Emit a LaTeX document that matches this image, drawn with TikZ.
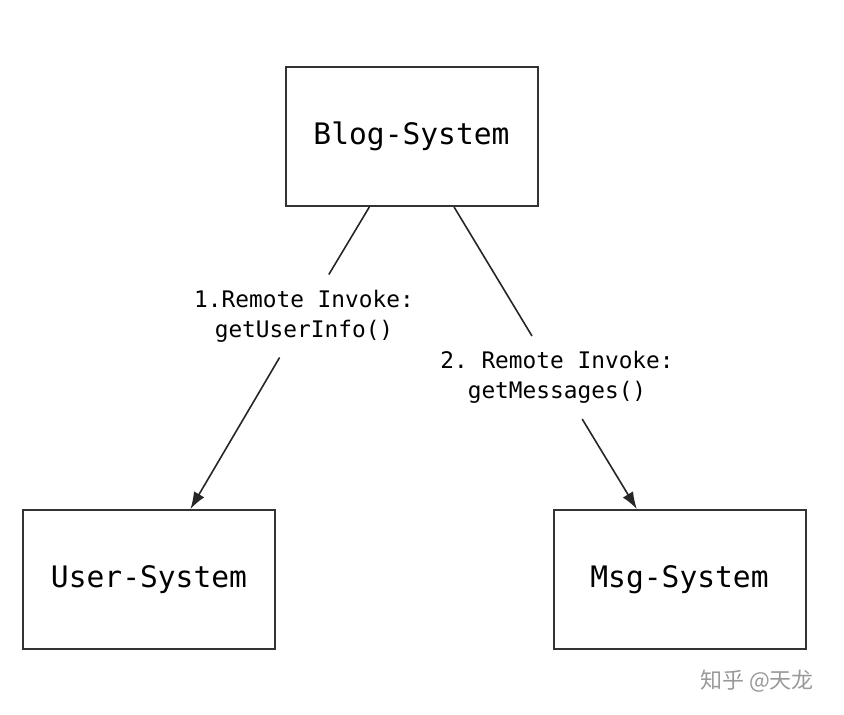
\documentclass[tikz,border=0pt]{standalone}
\usepackage{fontspec}
\setmonofont{DejaVu Sans Mono}
\newfontfamily\cjkfont{Noto Sans CJK SC}
\usetikzlibrary{arrows.meta}

\begin{document}
\begin{tikzpicture}[x=0.5pt,y=-0.5pt,
        sysbox/.style={draw=black!80,line width=1pt,minimum width=126pt,minimum height=69.5pt,inner sep=0pt,
            font=\ttfamily\fontsize{14.8}{18}\selectfont},
        call/.style={align=center,inner xsep=4pt,inner ysep=7.5pt,font=\ttfamily\fontsize{11.4}{15}\selectfont},
        wire/.style={draw=black!85,line width=0.8pt}]
            \useasboundingbox (0,0) rectangle (844,714);

            \node[sysbox] (blog) at (411.5,136.5) {Blog-System};
            \node[sysbox] (user) at (149,579.5) {User-System};
            \node[sysbox] (msg) at (679.5,579.5) {Msg-System};

            \node[call] (call1) at (304,316) {1.Remote Invoke:\\getUserInfo()};
            \node[call] (call2) at (557,377.5) {2. Remote Invoke:\\getMessages()};

            \draw[wire] (blog) -- (call1);
            \draw[wire,-{Latex[length=8.5pt,width=6pt]}] (call1) -- (user);
            \draw[wire] (blog) -- (call2);
            \draw[wire,-{Latex[length=8.5pt,width=6pt]}] (call2) -- (msg);

            \node[text=black!40,font=\cjkfont\fontsize{11}{13}\selectfont] (mark) at (757,681) {知乎 @天龙};
        \end{tikzpicture}
\end{document}
